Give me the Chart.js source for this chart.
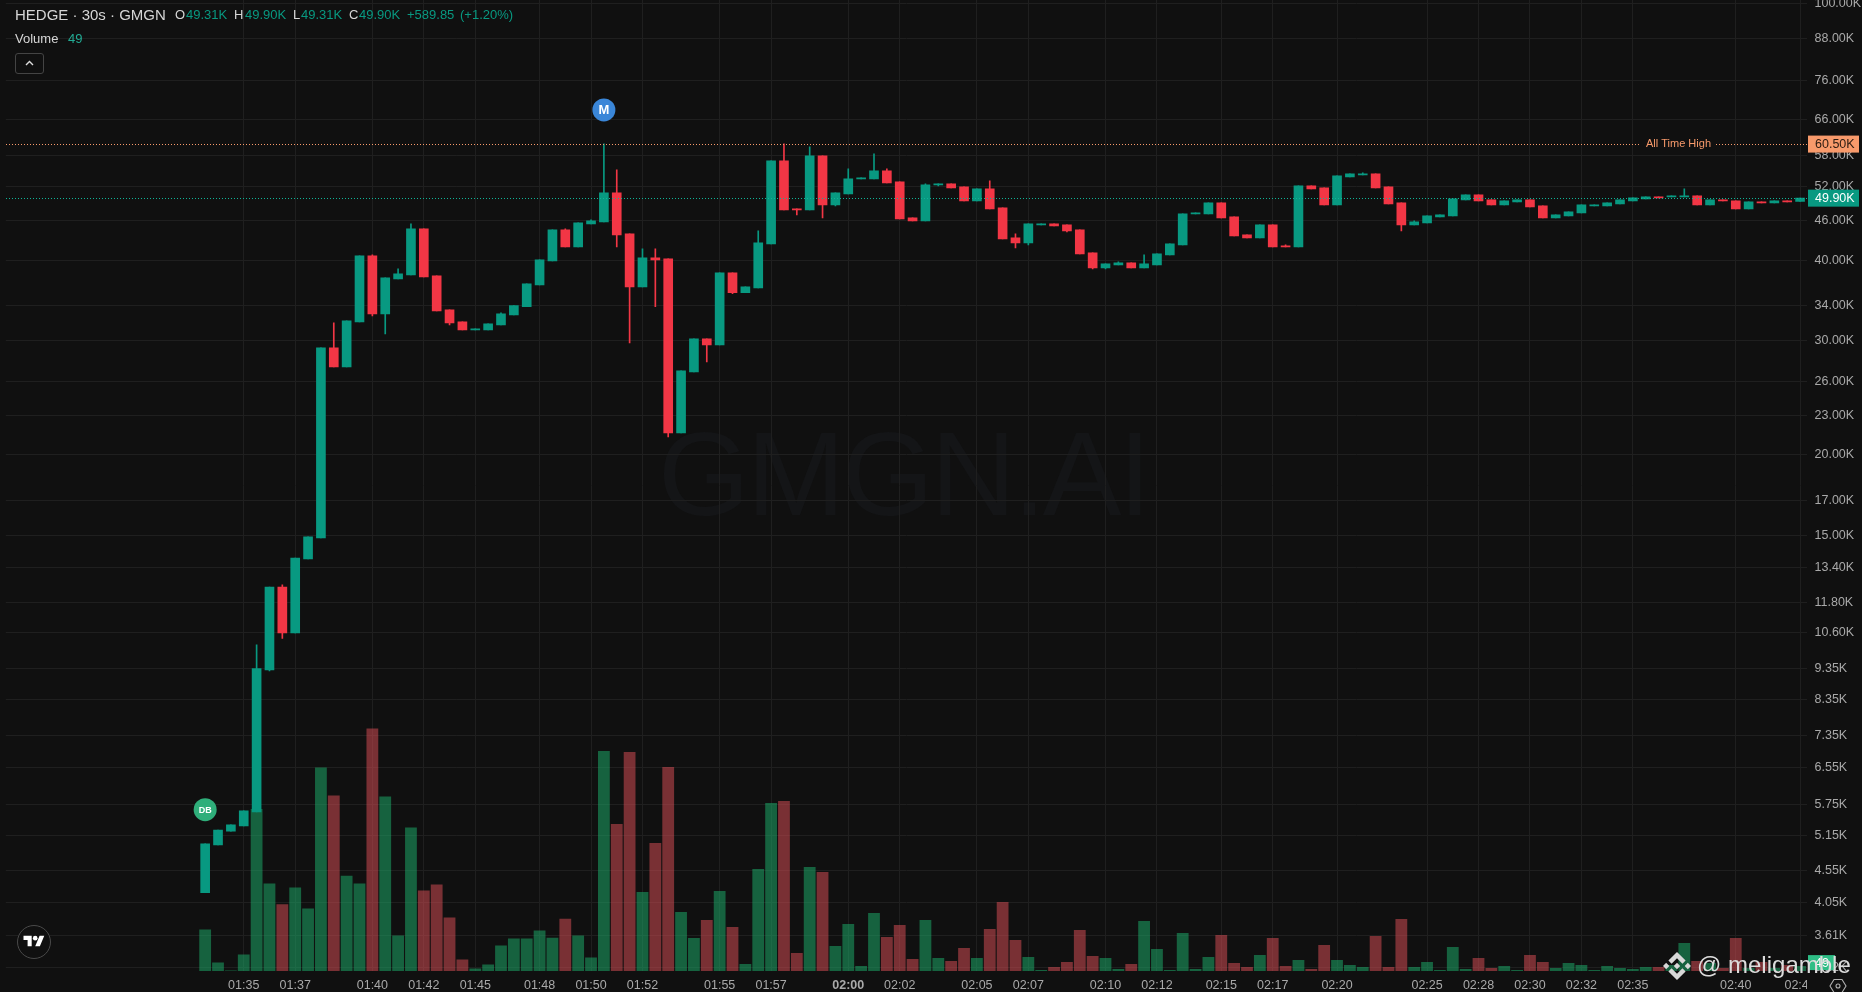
<!DOCTYPE html>
<html>
<head>
<meta charset="utf-8">
<title>HEDGE 30s GMGN</title>
<script src="https://cdn.jsdelivr.net/npm/chart.js@4"></script>
<style>
    html, body { margin: 0; width: 1862px; height: 992px; overflow: hidden; background: #101010; font-family: "Liberation Sans", Arial, sans-serif; }
    #chart { position: absolute; left: 0; top: 0; }
    .t { position: absolute; white-space: nowrap; font-size: 13px; line-height: 16px; color: #d6d6d6; }
    .g { color: #089981; }
    #brand { position: absolute; left: 658px; top: 415px; font-size: 118px; line-height: 118px; letter-spacing: -3px; color: #141517; white-space: nowrap; }
    #btn { position: absolute; left: 15px; top: 53px; width: 27px; height: 19px; border: 1px solid #444; border-radius: 3px; }
</style>
</head>
<body>
<div id="brand">GMGN.AI</div>
<canvas id="chart" width="1862" height="992"></canvas>

<!-- legend top left -->
<span class="t" style="left:15px;top:7px;font-size:15px;">HEDGE · 30s · GMGN</span>
<span class="t" style="left:175px;top:7px;">O</span><span class="t g" style="left:186px;top:7px;">49.31K</span>
<span class="t" style="left:234px;top:7px;">H</span><span class="t g" style="left:245px;top:7px;">49.90K</span>
<span class="t" style="left:293px;top:7px;">L</span><span class="t g" style="left:301px;top:7px;">49.31K</span>
<span class="t" style="left:349px;top:7px;">C</span><span class="t g" style="left:359px;top:7px;">49.90K</span>
<span class="t g" style="left:407px;top:7px;">+589.85</span><span class="t g" style="left:460px;top:7px;">(+1.20%)</span>
<span class="t" style="left:15px;top:31px;">Volume</span><span class="t g" style="left:68px;top:31px;color:#22ab94;">49</span>
<div id="btn"><svg width="27" height="19" style="display:block"><path d="M10 11 L13.5 7.5 L17 11" fill="none" stroke="#ddd" stroke-width="1.4"/></svg></div>

<!-- tradingview badge -->
<svg style="position:absolute;left:16px;top:924px" width="36" height="36">
    <circle cx="18" cy="18" r="16.5" fill="#101010" stroke="#4a4a4a" stroke-width="1"/>
    <g transform="translate(7.5,9.5) scale(0.585)" fill="#fff">
        <path d="M14 22H7V11H0V4h14v18zM28 22h-8l7.5-18h8L28 22z"/><circle cx="20" cy="8" r="4"/>
    </g>
</svg>

<!-- settings icon -->
<svg style="position:absolute;left:1829px;top:977px" width="18" height="18">
    <path d="M5 2.5 H13 L17 9 L13 15.5 H5 L1 9 Z" fill="none" stroke="#b0b0b0" stroke-width="1.1"/>
    <circle cx="9" cy="9" r="2" fill="none" stroke="#b0b0b0" stroke-width="1.1"/>
</svg>

<!-- overlay handle -->
<svg style="position:absolute;left:1663px;top:952px" width="28" height="28" viewBox="0 0 126.61 126.61" fill="#d8d8d8">
    <path d="M38.73 53.2L63.3 28.63 87.89 53.22 102.19 38.92 63.31 0.03 24.43 38.91z"/>
    <path d="M0 63.31L14.3 49.01 28.6 63.31 14.3 77.61z"/>
    <path d="M38.73 73.41L63.3 97.99 87.89 73.4 102.19 87.69 63.3 126.61 24.41 87.73z"/>
    <path d="M98 63.31L112.3 49.01 126.6 63.31 112.3 77.61z"/>
    <path d="M77.83 63.3L63.3 48.77 48.78 63.29 63.3 77.83z"/>
</svg>
<span class="t" style="left:1697px;top:950px;font-size:24px;line-height:30px;color:#dcdcdc;">@ meligamble</span>

<script>
// candle values in thousands
const opens = [4.20,4.98,5.23,5.33,5.60,9.29,12.48,10.60,13.80,14.87,29.27,27.35,32.11,40.62,33.04,37.43,37.96,44.72,37.83,33.51,32.11,31.20,31.20,31.77,32.92,
    33.91,36.64,39.90,44.56,41.95,45.53,45.85,50.84,43.93,36.38,40.33,40.19,21.62,26.86,30.22,29.58,38.23,35.62,36.25,42.40,56.99,48.02,47.85,58.01,48.71,
    50.66,53.44,53.44,54.98,52.87,46.51,46.02,52.31,52.50,51.94,49.41,51.57,48.19,43.31,42.55,45.37,45.53,45.37,44.56,41.06,38.92,39.34,39.62,38.92,39.34,
    40.76,42.25,47.17,47.17,49.06,46.67,43.77,43.31,45.37,42.10,41.95,52.13,51.76,48.71,53.83,54.21,54.40,51.94,49.06,45.37,45.69,46.67,46.84,49.59,50.48,
    49.59,48.71,49.23,49.59,48.54,46.51,46.84,47.34,48.54,48.54,48.88,49.41,49.76,50.12,50.12,50.12,50.30,48.71,49.59,49.41,48.02,49.23,49.06,49.41,49.31];
const closes = [5.00,5.25,5.35,5.62,9.33,12.48,10.60,13.84,14.92,29.27,27.35,32.23,40.62,33.04,37.56,38.10,44.72,37.69,33.39,32.00,31.20,31.32,31.89,33.04,34.03,
    36.77,40.04,44.56,41.95,45.69,46.02,50.84,43.77,36.38,40.33,40.04,21.62,26.96,30.22,29.58,38.23,35.62,36.38,42.55,56.99,47.85,47.85,58.01,48.71,50.84,
    53.44,53.63,54.98,52.68,46.34,46.02,52.31,52.50,51.76,49.41,51.57,48.02,43.15,42.55,45.53,45.53,45.20,44.40,40.91,38.92,39.48,39.62,38.92,39.48,40.91,
    42.40,47.17,47.34,49.06,46.51,43.62,43.31,45.37,41.95,41.95,52.13,51.57,48.71,54.02,54.40,54.40,51.76,48.88,45.37,45.85,46.84,47.01,49.76,50.48,49.41,
    48.71,49.41,49.59,48.36,46.51,47.01,47.51,48.71,48.71,49.06,49.59,49.94,50.12,49.94,50.30,50.30,48.71,49.59,49.41,48.02,49.23,49.06,49.41,49.23,49.90];
const highs = [5.00,5.25,5.35,5.62,10.16,12.48,12.58,13.84,14.92,29.27,32.00,32.23,40.62,40.76,37.56,38.78,45.53,44.72,37.83,33.51,32.11,31.32,31.89,33.15,34.03,
    36.77,40.04,44.56,44.72,45.69,46.18,60.54,55.18,43.93,41.64,41.64,40.19,26.96,30.22,30.22,38.23,38.23,36.38,44.40,56.99,60.54,48.02,59.89,58.01,50.84,
    55.38,53.63,58.42,55.38,52.87,46.51,52.50,52.50,52.50,51.94,51.57,53.06,48.19,43.93,45.53,45.53,45.53,45.37,44.56,41.06,39.48,39.76,39.62,40.76,40.91,
    42.40,47.17,47.34,49.06,49.06,46.67,43.77,45.37,45.37,42.25,52.13,52.13,51.76,54.02,54.40,54.59,54.40,51.94,49.06,46.02,46.84,47.01,49.76,50.48,50.48,
    49.59,49.41,49.59,49.59,48.54,47.01,47.51,48.71,48.71,49.06,49.59,49.94,50.12,50.12,50.30,51.57,50.30,49.59,49.59,49.41,49.23,49.23,49.41,49.41,49.90];
const lows = [4.20,4.98,5.23,5.33,5.60,9.26,10.39,10.60,13.80,14.87,27.35,27.35,32.11,32.80,30.76,37.43,37.96,37.69,33.39,31.77,31.20,31.20,31.20,31.77,32.92,
    33.91,36.64,39.90,41.95,41.95,45.53,45.85,41.95,29.79,36.38,33.91,21.31,21.62,26.86,27.84,29.58,35.49,35.62,36.25,42.40,47.85,47.01,47.85,46.51,48.54,
    50.66,53.44,53.44,52.68,46.34,46.02,46.02,52.13,51.76,49.41,49.41,48.02,43.15,41.80,42.25,45.37,45.20,44.24,40.91,38.78,38.78,39.34,38.92,38.92,39.34,
    40.76,42.25,47.17,47.17,46.51,43.62,43.31,43.31,41.95,41.95,41.95,51.57,48.71,48.71,53.83,54.21,51.76,48.88,44.40,45.37,45.69,46.67,46.84,49.59,49.41,
    48.71,48.71,49.23,48.36,46.51,46.51,46.84,47.34,48.54,48.54,48.88,49.41,49.76,49.94,50.12,50.12,48.71,48.71,49.41,48.02,48.02,49.06,49.06,49.23,49.31];
const volumes = [416,86,5,165,1620,875,667,835,624,2036,1756,953,875,2426,1745,355,1434,806,864,534,115,25,65,254,326,326,405,333,523,355,136,2200,
    1470,2190,790,1280,2040,590,330,510,800,440,70,1020,1680,1700,180,1040,990,250,470,50,580,340,460,120,510,130,100,230,130,420,690,310,140,10,40,90,410,150,
    130,20,70,500,220,10,380,20,140,360,80,40,160,330,50,110,20,260,110,60,40,350,40,520,40,90,10,240,20,130,30,50,10,160,90,30,80,60,10,50,30,20,40,40,60,280,
    100,80,30,330,30,90,30,60,49];

// bottom axis: candle number -> time
const timeIndex = [3,7,13,17,21,26,30,34,40,44,50,54,60,64,70,74,79,83,88,95,99,103,107,111,119,124];
const timeText = ['01:35','01:37','01:40','01:42','01:45','01:48','01:50','01:52','01:55','01:57','02:00','02:02','02:05','02:07','02:10','02:12',
    '02:15','02:17','02:20','02:25','02:28','02:30','02:32','02:35','02:40','02:42'];
const priceTicks = [100,88,76,66,58,52,46,40,34,30,26,23,20,17,15,13.4,11.8,10.6,9.35,8.35,7.35,6.55,5.75,5.15,4.55,4.05,3.61,3.22];

const athPrice = 60.50;
const lastPrice = 49.90;

const green = '#089981', red = '#f23645', bg = '#101010';
const gridColor = '#1f1f1f', axisText = '#a9a9a9';
const emptyBars = 15;   // blank space left of the first candle
const pad = Array(emptyBars).fill(null);

const labels = Array(emptyBars + opens.length).fill('');
timeIndex.forEach((c, i) => { labels[emptyBars + c] = timeText[i]; });

const isUp = opens.map((o, i) => closes[i] >= o);
const candleColors = isUp.map(up => up ? green : red);
const volColors = isUp.map(up => up ? 'rgba(27,180,110,0.5)' : 'rgba(226,80,88,0.5)');

const overlays = {
    id: 'overlays',
    afterDatasetsDraw(chart) {
        const { ctx, scales: { x, y }, chartArea: area } = chart;
        const left = Math.round(area.left), right = Math.round(area.right);
        ctx.save();
        // dotted price lines
        ctx.lineWidth = 1;
        ctx.setLineDash([1, 2]);
        const athY = Math.round(y.getPixelForValue(athPrice)) + 0.5;
        ctx.strokeStyle = '#f89a6b';
        ctx.beginPath();
        ctx.moveTo(left, athY); ctx.lineTo(1639, athY);
        ctx.moveTo(1716, athY); ctx.lineTo(right, athY);
        ctx.stroke();
        const lastY = Math.round(y.getPixelForValue(lastPrice)) + 0.5;
        ctx.strokeStyle = '#0fb597';
        ctx.beginPath();
        ctx.moveTo(left, lastY); ctx.lineTo(right, lastY);
        ctx.stroke();
        ctx.setLineDash([]);

        ctx.fillStyle = '#f89a6b';
        ctx.font = '11px "Liberation Sans"';
        ctx.textAlign = 'center';
        ctx.textBaseline = 'middle';
        ctx.fillText('All Time High', 1678.5, athY - 1);

        // markers sit above the candle high
        const marker = (i, fill, text, font) => {
            const cx = x.getPixelForValue(emptyBars + i);
            const cy = y.getPixelForValue(highs[i]) - 34;
            ctx.beginPath();
            ctx.arc(cx, cy, 11.5, 0, Math.PI * 2);
            ctx.fillStyle = fill;
            ctx.fill();
            ctx.fillStyle = '#fff';
            ctx.font = font;
            ctx.fillText(text, cx, cy + 0.5);
        };
        marker(0, '#2fae7a', 'DB', 'bold 9px "Liberation Sans"');
        marker(31, '#3a86d8', 'M', 'bold 13px "Liberation Sans"');
        ctx.restore();
    },
    afterDraw(chart) {
        const { ctx, scales: { y, v }, chartArea: area } = chart;
        const axisX = Math.round(area.right);
        ctx.save();
        // hide the part of the last time label under the price axis
        ctx.fillStyle = bg;
        ctx.fillRect(axisX, area.bottom, chart.width - axisX, chart.height - area.bottom);

        const tag = (cy, fill, color, text, h, w) => {
            ctx.fillStyle = fill;
            ctx.fillRect(axisX + 1, cy - h / 2, w, h);
            ctx.fillStyle = color;
            ctx.font = '12.5px "Liberation Sans"';
            ctx.textAlign = 'left';
            ctx.textBaseline = 'middle';
            ctx.fillText(text, axisX + 8, cy + 0.5);
        };
        tag(y.getPixelForValue(athPrice), '#f89a6b', '#2a1a10', athPrice.toFixed(2) + 'K', 17, 51);
        tag(y.getPixelForValue(lastPrice), green, '#fff', lastPrice.toFixed(2) + 'K', 17, 51);
        tag(v.getPixelForValue(volumes[124]) - 3.5, '#2ebd85', '#fff', String(volumes[124]), 15, 27);
        ctx.restore();
    }
};

new Chart(document.getElementById('chart'), {
    type: 'bar',
    plugins: [overlays],
    data: {
        labels: labels,
        datasets: [
            {
                label: 'Volume', yAxisID: 'v', order: 3, grouped: false, barThickness: 11.8, inflateAmount: 0,
                data: pad.concat(volumes), backgroundColor: pad.concat(volColors)
            },
            {
                label: 'Wick', yAxisID: 'y', order: 2, grouped: false, barThickness: 1,
                data: pad.concat(lows.map((l, i) => [l, highs[i]])), backgroundColor: pad.concat(candleColors)
            },
            {
                label: 'Body', yAxisID: 'y', order: 1, grouped: false, barThickness: 9, minBarLength: 1,
                data: pad.concat(opens.map((o, i) => [o, closes[i]])), backgroundColor: pad.concat(candleColors)
            }
        ]
    },
    options: {
        responsive: false,
        animation: false,
        devicePixelRatio: 1,
        layout: { padding: { left: 5.8 } },
        plugins: { legend: { display: false }, tooltip: { enabled: false } },
        scales: {
            x: {
                grid: { color: gridColor, offset: false, drawTicks: false },
                border: { display: false },
                afterFit: s => { s.height = 21; s.paddingLeft = 0; s.paddingRight = 0; },
                afterBuildTicks: s => { s.ticks = s.ticks.filter(t => labels[t.value]); },
                ticks: {
                    autoSkip: false, maxRotation: 0, padding: 7, color: axisText,
                    font: c => ({ family: '"Liberation Sans"', size: 12.5, weight: c.tick && c.tick.label === '02:00' ? 'bold' : 'normal' }),
                    callback: function (val) { return this.getLabelForValue(val); }
                }
            },
            y: {
                type: 'logarithmic', position: 'right', min: 3.177, max: 101.1, bounds: 'data',
                grid: { color: gridColor, drawTicks: false },
                border: { display: false },
                afterFit: s => { s.width = 55.5; s.paddingTop = 0; s.paddingBottom = 0; },
                afterBuildTicks: s => { s.ticks = priceTicks.map(p => ({ value: p })); },
                ticks: {
                    autoSkip: false, padding: 8, color: axisText,
                    font: { family: '"Liberation Sans"', size: 12.5 },
                    callback: val => val.toFixed(2) + 'K'
                }
            },
            v: { type: 'linear', display: false, min: 0, max: 9710 }
        }
    }
});
</script>
</body>
</html>
